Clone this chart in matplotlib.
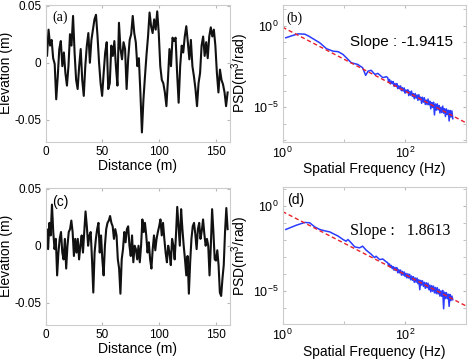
import numpy as np
import matplotlib
matplotlib.use("Agg")
import matplotlib.pyplot as plt
from matplotlib.ticker import FixedLocator, NullFormatter

plt.rcParams["font.family"] = ["Liberation Sans", "DejaVu Sans"]
plt.rcParams["mathtext.fontset"] = "custom"
plt.rcParams["mathtext.rm"] = "Liberation Sans"
plt.rcParams["mathtext.it"] = "Liberation Sans"

# profile (a): elevation in m, evenly sampled along 0-160 m
elev_a = [0.012, 0.006, 0.029, 0.015, 0.020, 0.004, -0.001, -0.032, -0.012, 0.012,
          0.019, -0.003, 0.009, -0.009, -0.020, -0.003, 0.025, 0.015, 0.041, 0.009,
          -0.015, -0.023, -0.003, 0.012, -0.015, -0.029, -0.003, 0.015, 0.026, 0.000,
          0.020, 0.029, 0.038, 0.042, 0.023, 0.000, -0.018, -0.029, -0.009, 0.009,
          0.018, -0.023, -0.018, 0.015, 0.006, 0.019, -0.003, -0.020, 0.035, 0.012,
          0.003, 0.018, 0.012, -0.023, 0.003, 0.020, 0.025, 0.041, 0.026, 0.018,
          -0.003, 0.004, -0.026, -0.061, -0.032, -0.012, 0.007, 0.023, 0.044, 0.032,
          0.026, 0.038, 0.029, 0.045, 0.026, -0.003, -0.015, -0.018, -0.026, -0.038,
          -0.015, 0.012, -0.003, 0.022, 0.019, 0.022, -0.009, -0.035, -0.003, 0.015,
          0.009, 0.023, 0.032, 0.018, 0.003, 0.020, -0.003, -0.012, -0.023, -0.038,
          -0.018, -0.009, 0.015, 0.023, 0.006, 0.018, 0.004, 0.023, 0.031, 0.023,
          0.029, 0.015, -0.009, -0.026, -0.006, -0.015, -0.019, -0.026, -0.038, -0.026]

# profile (c)
elev_c = [0.006, 0.0145, -0.003, 0.020, 0.009, 0.036, 0.012, -0.003, 0.006, -0.026,
          -0.006, 0.006, 0.012, -0.006, -0.012, 0.006, -0.020, 0.000, 0.012, 0.0145,
          0.022, 0.012, -0.009, 0.006, -0.006, 0.006, -0.012, 0.000, 0.009, -0.006,
          0.012, 0.030, 0.017, 0.000, 0.009, 0.012, -0.012, -0.041, -0.006, 0.006,
          0.0145, 0.020, -0.006, 0.009, -0.012, -0.026, 0.000, 0.0145, 0.020, 0.022,
          0.026, 0.020, 0.017, 0.006, 0.0145, 0.009, -0.012, -0.020, -0.042, -0.012,
          -0.003, 0.012, 0.003, 0.0145, 0.017, 0.000, -0.009, 0.009, -0.0145, 0.000,
          -0.003, -0.012, 0.000, -0.0145, 0.000, 0.023, 0.012, 0.020, 0.009, -0.006,
          0.003, -0.012, -0.020, -0.003, 0.009, -0.004, 0.006, 0.012, 0.017, 0.023,
          0.009, 0.020, 0.006, -0.006, -0.0145, 0.000, -0.006, -0.017, 0.006, 0.000,
          -0.012, 0.009, 0.034, 0.017, 0.000, 0.032, 0.0145, 0.000, -0.012, -0.026,
          -0.009, -0.042, -0.0145, 0.006, 0.017, 0.020, 0.010, -0.003, 0.0145, 0.020,
          0.006, 0.013, 0.023, 0.010, 0.000, 0.006, 0.000, -0.026, 0.000, 0.032,
          0.012, -0.012, -0.013, -0.004, -0.017, -0.041, -0.044, -0.029, -0.017, 0.012,
          0.033, 0.0145]

dist_a = np.linspace(0, 160, len(elev_a))
dist_c = np.linspace(0, 160, len(elev_c))

# PSD (b): log10 frequency / log10 psd, smooth low-frequency part
b_logf_low = [0.054, 0.15, 0.255, 0.31, 0.364, 0.43, 0.50, 0.61, 0.72, 0.826, 0.91,
              0.99, 1.07, 1.125, 1.23, 1.31, 1.36, 1.40, 1.45, 1.51, 1.56, 1.64, 1.70]
b_logp_low = [-0.75, -0.63, -0.51, -0.52, -0.53, -0.65, -0.81, -1.06, -1.42, -1.57, -1.60,
              -1.77, -2.07, -2.28, -2.38, -2.58, -3.05, -2.79, -2.74, -2.99, -2.93, -3.19, -3.13]
# noisy high-frequency part
b_logp_high = [-3.19, -3.42, -3.30, -3.57, -3.40, -3.56, -3.43, -3.72, -3.55, -3.70,
               -3.55, -3.86, -3.69, -3.87, -3.69, -3.99, -3.80, -4.01, -3.82, -4.14,
               -3.94, -4.10, -3.93, -4.29, -4.04, -4.26, -4.01, -4.34, -4.17, -4.48,
               -4.16, -4.44, -4.25, -4.58, -4.23, -4.54, -4.38, -4.76, -4.39, -4.69,
               -4.42, -4.83, -4.56, -4.84, -4.50, -4.85, -4.63, -5.10, -4.71, -5.01,
               -4.69, -5.47, -4.80, -5.18, -4.79, -5.16, -4.89, -5.35, -5.00, -5.33,
               -4.93, -5.36, -5.09, -5.57, -5.10, -5.45, -5.18, -5.84, -5.20, -5.60,
               -5.22, -5.70]
b_fit_f = [1.0, 1000.0]
b_fit_p = [10 ** -0.10, 10 ** -5.95]
b_slope = "Slope : -1.9415"

# PSD (d)
d_logf_low = [0.054, 0.228, 0.364, 0.445, 0.527, 0.608, 0.69, 0.77, 0.826, 0.91, 0.99,
              1.04, 1.07, 1.125, 1.18, 1.26, 1.31, 1.37, 1.45, 1.505, 1.53, 1.59, 1.64, 1.70]
d_logp_low = [-1.37, -1.12, -0.96, -0.98, -1.22, -1.37, -1.45, -1.51, -1.61, -1.76, -1.96,
              -2.06, -1.96, -2.16, -2.39, -2.45, -2.35, -2.59, -2.82, -3.02, -2.94, -3.14, -3.10, -3.28]
d_logp_high = [-3.31, -3.49, -3.39, -3.59, -3.48, -3.67, -3.55, -3.76, -3.59, -3.78,
               -3.61, -3.91, -3.72, -3.92, -3.75, -4.05, -3.83, -4.05, -3.86, -4.13,
               -3.94, -4.21, -3.97, -4.22, -4.00, -4.32, -4.10, -4.35, -4.14, -4.47,
               -4.21, -4.46, -4.22, -4.55, -4.32, -4.90, -4.36, -4.63, -4.38, -4.71,
               -4.47, -4.82, -4.49, -4.79, -4.52, -4.91, -4.63, -5.03, -4.66, -4.99,
               -4.69, -5.09, -4.77, -5.13, -4.78, -5.15, -4.88, -5.28, -4.97, -5.29,
               -4.94, -6.02, -5.05, -5.42, -5.07, -5.43, -5.16, -5.88, -5.18, -5.54,
               -5.27, -5.49]
d_fit_f = [1.0, 1000.0]
d_fit_p = [10 ** -0.32, 10 ** -5.85]
d_slope = "Slope :   1.8613"

high_logf = np.linspace(1.72, 2.785, len(b_logp_high))

fig = plt.figure(figsize=(4.74, 3.63), dpi=100)

spine_col = "#cccccc"
SERIF = ["Liberation Serif", "DejaVu Serif"]
SANS = ["Liberation Sans", "DejaVu Sans"]


def style(ax):
    for s in ax.spines.values():
        s.set_color(spine_col)
        s.set_linewidth(0.8)
    ax.tick_params(which="both", direction="in", top=True, right=True,
                   color="#b8b8b8", labelsize=8.5, pad=3, length=2.5)


def profile(ax, dist, elev, label, lab_y, lab_font):
    ax.plot(dist, elev, color="#111111", lw=1.5)
    ax.set_xlim(0, 162)
    ax.set_ylim(-0.069, 0.0505)
    ax.set_xticks([0, 50, 100, 150])
    ax.set_yticks([-0.05, 0, 0.05])
    ax.set_yticklabels(["-0.05", "0", "0.05"])
    ax.set_xlabel("Distance (m)", fontsize=10, labelpad=1)
    ax.set_ylabel("Elevation (m)", fontsize=10, labelpad=1)
    ax.text(0.035, lab_y, label, transform=ax.transAxes, fontsize=10,
            va="center", family=lab_font)
    style(ax)


def psd(ax, logf_low, logp_low, logp_high, fit_f, fit_p, txt, label, ylim, txt_y,
        txt_font, txt_size, lab_font):
    f = 10 ** np.concatenate([logf_low, high_logf])
    p = 10 ** np.concatenate([logp_low, logp_high])
    ax.plot(f, p, color="#2a3cff", lw=1.1)
    ax.plot(fit_f, fit_p, color="#e8202a", lw=1.0, ls=(0, (3, 2)))
    ax.set_xscale("log")
    ax.set_yscale("log")
    ax.set_xlim(1, 1000)
    ax.set_ylim(10 ** ylim[0], 10 ** ylim[1])
    ax.xaxis.set_major_locator(FixedLocator([1, 100]))
    ax.xaxis.set_minor_locator(FixedLocator([10, 1000]))
    ax.xaxis.set_minor_formatter(NullFormatter())
    ax.set_xticklabels(["$10^0$", "$10^2$"])
    ax.yaxis.set_major_locator(FixedLocator([1e-5, 1]))
    ax.yaxis.set_minor_locator(FixedLocator([10.0 ** k for k in range(-7, 2)]))
    ax.yaxis.set_minor_formatter(NullFormatter())
    ax.set_yticklabels(["$10^{-5}$", "$10^0$"])
    ax.set_xlabel("Spatial Frequency (Hz)", fontsize=10, labelpad=1)
    ax.set_ylabel("PSD(m$^3$/rad)", fontsize=10, labelpad=1)
    ax.text(0.367, txt_y, txt, transform=ax.transAxes, fontsize=txt_size, va="center",
            family=txt_font)
    ax.text(0.023, 0.905, label, transform=ax.transAxes, fontsize=10, va="center",
            family=lab_font)
    style(ax)
    ax.tick_params(which="both", labelsize=9)


ax_a = fig.add_axes([0.096, 0.610, 0.389, 0.376])
ax_b = fig.add_axes([0.596, 0.610, 0.387, 0.376])
ax_c = fig.add_axes([0.096, 0.106, 0.389, 0.376])
ax_d = fig.add_axes([0.596, 0.108, 0.387, 0.376])

profile(ax_a, dist_a, elev_a, "(a)", 0.914, SERIF)
profile(ax_c, dist_c, elev_c, "(c)", 0.90, SANS)
psd(ax_b, b_logf_low, b_logp_low, b_logp_high, b_fit_f, b_fit_p, b_slope, "(b)",
    (-7.1, 1.25), 0.727, SANS, 11, SERIF)
psd(ax_d, d_logf_low, d_logp_low, d_logp_high, d_fit_f, d_fit_p, d_slope, "(d)",
    (-6.9, 1.1), 0.683, SERIF, 11.5, SANS)

fig.savefig("out.png", dpi=100)
